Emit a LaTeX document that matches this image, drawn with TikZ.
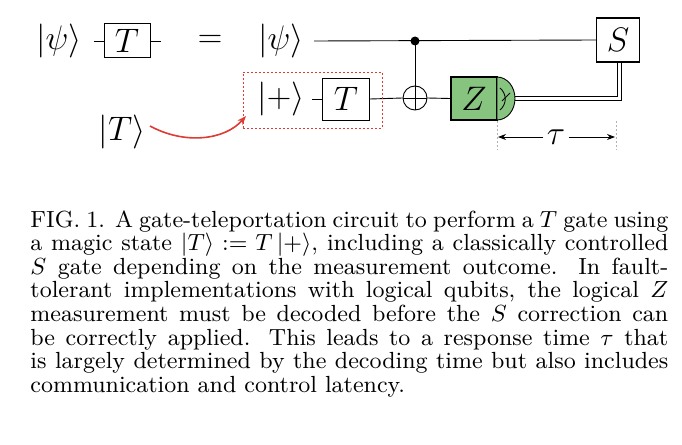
\RequirePackage{fix-cm}
\documentclass[tikz,border=0pt]{standalone}
\usetikzlibrary{arrows.meta}
\usepackage{graphicx}
\definecolor{gr}{RGB}{134,196,128}
\definecolor{rd}{RGB}{220,60,50}
\begin{document}
\begin{tikzpicture}[x=1pt,y=-1pt,line width=0.9pt,
  lbl/.style={inner sep=0pt,font=\fontsize{34}{36}\selectfont},
  gate/.style={draw,line width=1.5pt,inner sep=0pt,font=\fontsize{34}{36}\selectfont}]
\useasboundingbox (0,0) rectangle (682,444);
% left side
\node[lbl] (psiL) at (59,41) {$|\psi\rangle$};
\node[gate,line width=1pt,minimum width=46,minimum height=34] (T1) at (127,41) {$T$};
\draw (T1.west) -- ++(-10,0) coordinate (t1a);
\draw (T1.east) -- ++(10,0) coordinate (t1b);
\node[lbl] (eq) at (210,41) {$=$};
% right side
\node[lbl] (psiR) at (281,41) {$|\psi\rangle$};
\node[gate,minimum width=43,minimum height=44] (S) at (618,40) {$S$};
\coordinate (ctl) at (415,41);
\draw (psiR.east)+(10,0) coordinate (w1) -- (S.west);
\fill (ctl) circle (4.5);
\node[lbl] (plus) at (281,99) {$|+\rangle$};
\node[gate,line width=1pt,minimum width=47,minimum height=42] (T2) at (346,99) {$T$};
\node[draw,circle,minimum size=24,inner sep=0pt] (ox) at (415,98) {};
\draw (ox.north) -- (ox.south) (ox.west) -- (ox.east);
\draw (ctl) -- (ox.south);
\node[gate,fill=gr,minimum width=46,minimum height=43] (Z) at (474,98.5) {$Z$};
\draw (T2.west) -- ++(-10,0) coordinate (t2a);
\draw (T2.east) -- (ox.west);
\draw (ox.east) -- (Z.west);
% meter
\draw[fill=gr] (497,77) arc (-90:90:18 and 21.5) -- cycle;
\draw (500,88) .. controls (507,94) and (507,104) .. (500,110);
\draw (502,101) -- (510,93);
\coordinate (m) at (515,98);
\draw (515,96) -- (617,96) -- (617,62);
\draw (515,100) -- (621,100) -- (621,62);
% dashed box
\node[draw=rd,line width=0.6pt,dash pattern=on 2pt off 2pt,minimum width=139,minimum height=56,inner sep=0] (box) at (312.5,100) {};
\node[lbl] (Tst) at (122,132) {$|T\rangle$};
\draw[rd,line width=1.6pt,-{Stealth[length=9pt]}] (150,126) .. controls (185,145) and (225,140) .. (246,116);
% tau
\coordinate (d1) at (497,121); \coordinate (d2) at (616,121);
\draw[gray!60,line width=0.4pt,dash pattern=on 2pt off 2pt] (d1) -- (497,150) (d2) -- (616,150);
\node[lbl] (tau) at (556,137) {$\tau$};
\draw[-{Stealth[length=8pt]}] (tau.west)+(-3,0) -- (498,137);
\draw[-{Stealth[length=8pt]}] (tau.east)+(3,0) -- (615,137);
% caption
\node[anchor=north west,inner sep=0pt] (cap) at (30,210)
{\scalebox{2.593}{\parbox[t]{246pt}{\fontsize{9}{9.1}\selectfont
FIG.~1. A gate-teleportation circuit to perform a $T$ gate using a magic state $|T\rangle := T\,|+\rangle$, including a classically controlled $S$ gate depending on the measurement outcome. In fault-tolerant implementations with logical qubits, the logical $Z$ measurement must be decoded before the $S$ correction can be correctly applied. This leads to a response time $\tau$ that is largely determined by the decoding time but also includes communication and control latency.}}};
\end{tikzpicture}
\end{document}
